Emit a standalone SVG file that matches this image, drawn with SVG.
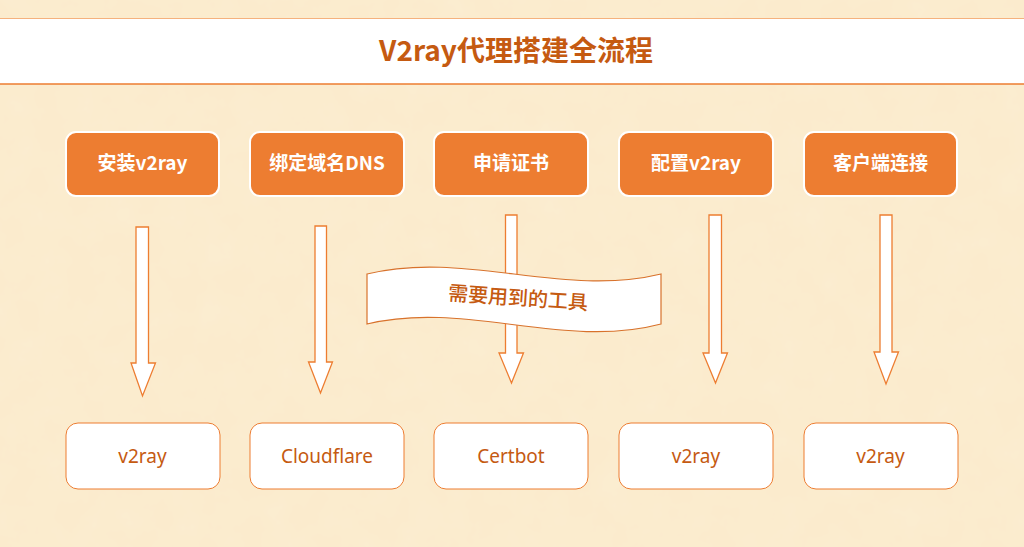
<svg xmlns="http://www.w3.org/2000/svg" width="1024" height="547" viewBox="0 0 1024 547">
  <defs>
    <filter id="paper" x="0" y="0" width="100%" height="100%">
      <feTurbulence type="fractalNoise" baseFrequency="0.03" numOctaves="4" seed="7" result="n"/>
      <feColorMatrix in="n" type="matrix" values="0 0 0 0 0.96  0 0 0 0 0.85  0 0 0 0 0.64  0 0 0 1.2 -0.38" result="c"/>
      <feComposite in="c" in2="SourceGraphic" operator="over"/>
    </filter>
    <style>
      .step rect { fill: #ed7d31; stroke: #ffffff; stroke-width: 2; }
      .step text { font-family: "Noto Sans CJK SC", "Noto Sans", sans-serif; font-weight: bold; font-size: 19px; fill: #ffffff; text-anchor: middle; }
      .tool rect { fill: #ffffff; stroke: #ed7d31; stroke-width: 1; }
      .tool text { font-family: "Noto Sans", "Noto Sans CJK SC", sans-serif; font-size: 19px; fill: #c55a11; text-anchor: middle; }
      .arrow { fill: #ffffff; stroke: #ed7d31; stroke-width: 1.3; stroke-linejoin: miter; }
      .title { font-family: "Noto Sans CJK SC", "Noto Sans", sans-serif; font-weight: bold; font-size: 28px; fill: #c55a11; text-anchor: middle; }
      .banner-text { font-family: "Noto Sans CJK SC", sans-serif; font-weight: 500; font-size: 20px; fill: #c55a11; text-anchor: middle; }
    </style>
  </defs>

  <rect x="0" y="0" width="1024" height="547" fill="#fbebcd" filter="url(#paper)"/>

  <g id="header">
    <rect x="-1" y="18" width="1026" height="66" fill="#ffffff"/>
    <line x1="0" y1="18.5" x2="1024" y2="18.5" stroke="#f5b27e" stroke-width="1"/>
    <line x1="0" y1="84" x2="1024" y2="84" stroke="#ed7d31" stroke-width="1.3"/>
    <text class="title" x="516" y="61">V2ray代理搭建全流程</text>
  </g>

  <g id="step1" class="step"><rect x="66" y="132" width="153" height="64" rx="10"/><text x="142.5" y="170">安装v2ray</text></g>
  <g id="step2" class="step"><rect x="250" y="132" width="154" height="64" rx="10"/><text x="327" y="170">绑定域名DNS</text></g>
  <g id="step3" class="step"><rect x="434" y="132" width="154" height="64" rx="10"/><text x="511" y="170">申请证书</text></g>
  <g id="step4" class="step"><rect x="619" y="132" width="154" height="64" rx="10"/><text x="696" y="170">配置v2ray</text></g>
  <g id="step5" class="step"><rect x="804" y="132" width="153" height="64" rx="10"/><text x="880.5" y="170">客户端连接</text></g>

  <g id="connectors">
    <path class="arrow" d="M136,227 H148.5 V363 H155.5 L142.5,396 L131,363 H136 Z"/>
    <path class="arrow" d="M315,226 H326.5 V362 H332.5 L320.5,393 L308.5,362 H315 Z"/>
    <path class="arrow" d="M505.5,215 H517 V353 H523.5 L511.5,383 L499,353 H505.5 Z"/>
    <path class="arrow" d="M709,215 H721.5 V353 H727.5 L715.5,383 L703,353 H709 Z"/>
    <path class="arrow" d="M880,215 H892 V352 H898.5 L886,384 L874,352 H880 Z"/>
  </g>

  <g id="banner">
    <path d="M367,274 C465,250 563,298 661,274 V324 C563,350 465,300 367,324 Z" fill="#ffffff" stroke="#d8722c" stroke-width="1.2"/>
    <text class="banner-text" x="518" y="305" transform="rotate(4 518 298)">需要用到的工具</text>
  </g>

  <g id="tool1" class="tool"><rect x="66" y="423" width="154" height="66" rx="12"/><text x="142.5" y="463">v2ray</text></g>
  <g id="tool2" class="tool"><rect x="250" y="423" width="154" height="66" rx="12"/><text x="327" y="463">Cloudflare</text></g>
  <g id="tool3" class="tool"><rect x="434" y="423" width="154" height="66" rx="12"/><text x="511" y="463">Certbot</text></g>
  <g id="tool4" class="tool"><rect x="619" y="423" width="154" height="66" rx="12"/><text x="696" y="463">v2ray</text></g>
  <g id="tool5" class="tool"><rect x="804" y="423" width="154" height="66" rx="12"/><text x="880.5" y="463">v2ray</text></g>
</svg>
